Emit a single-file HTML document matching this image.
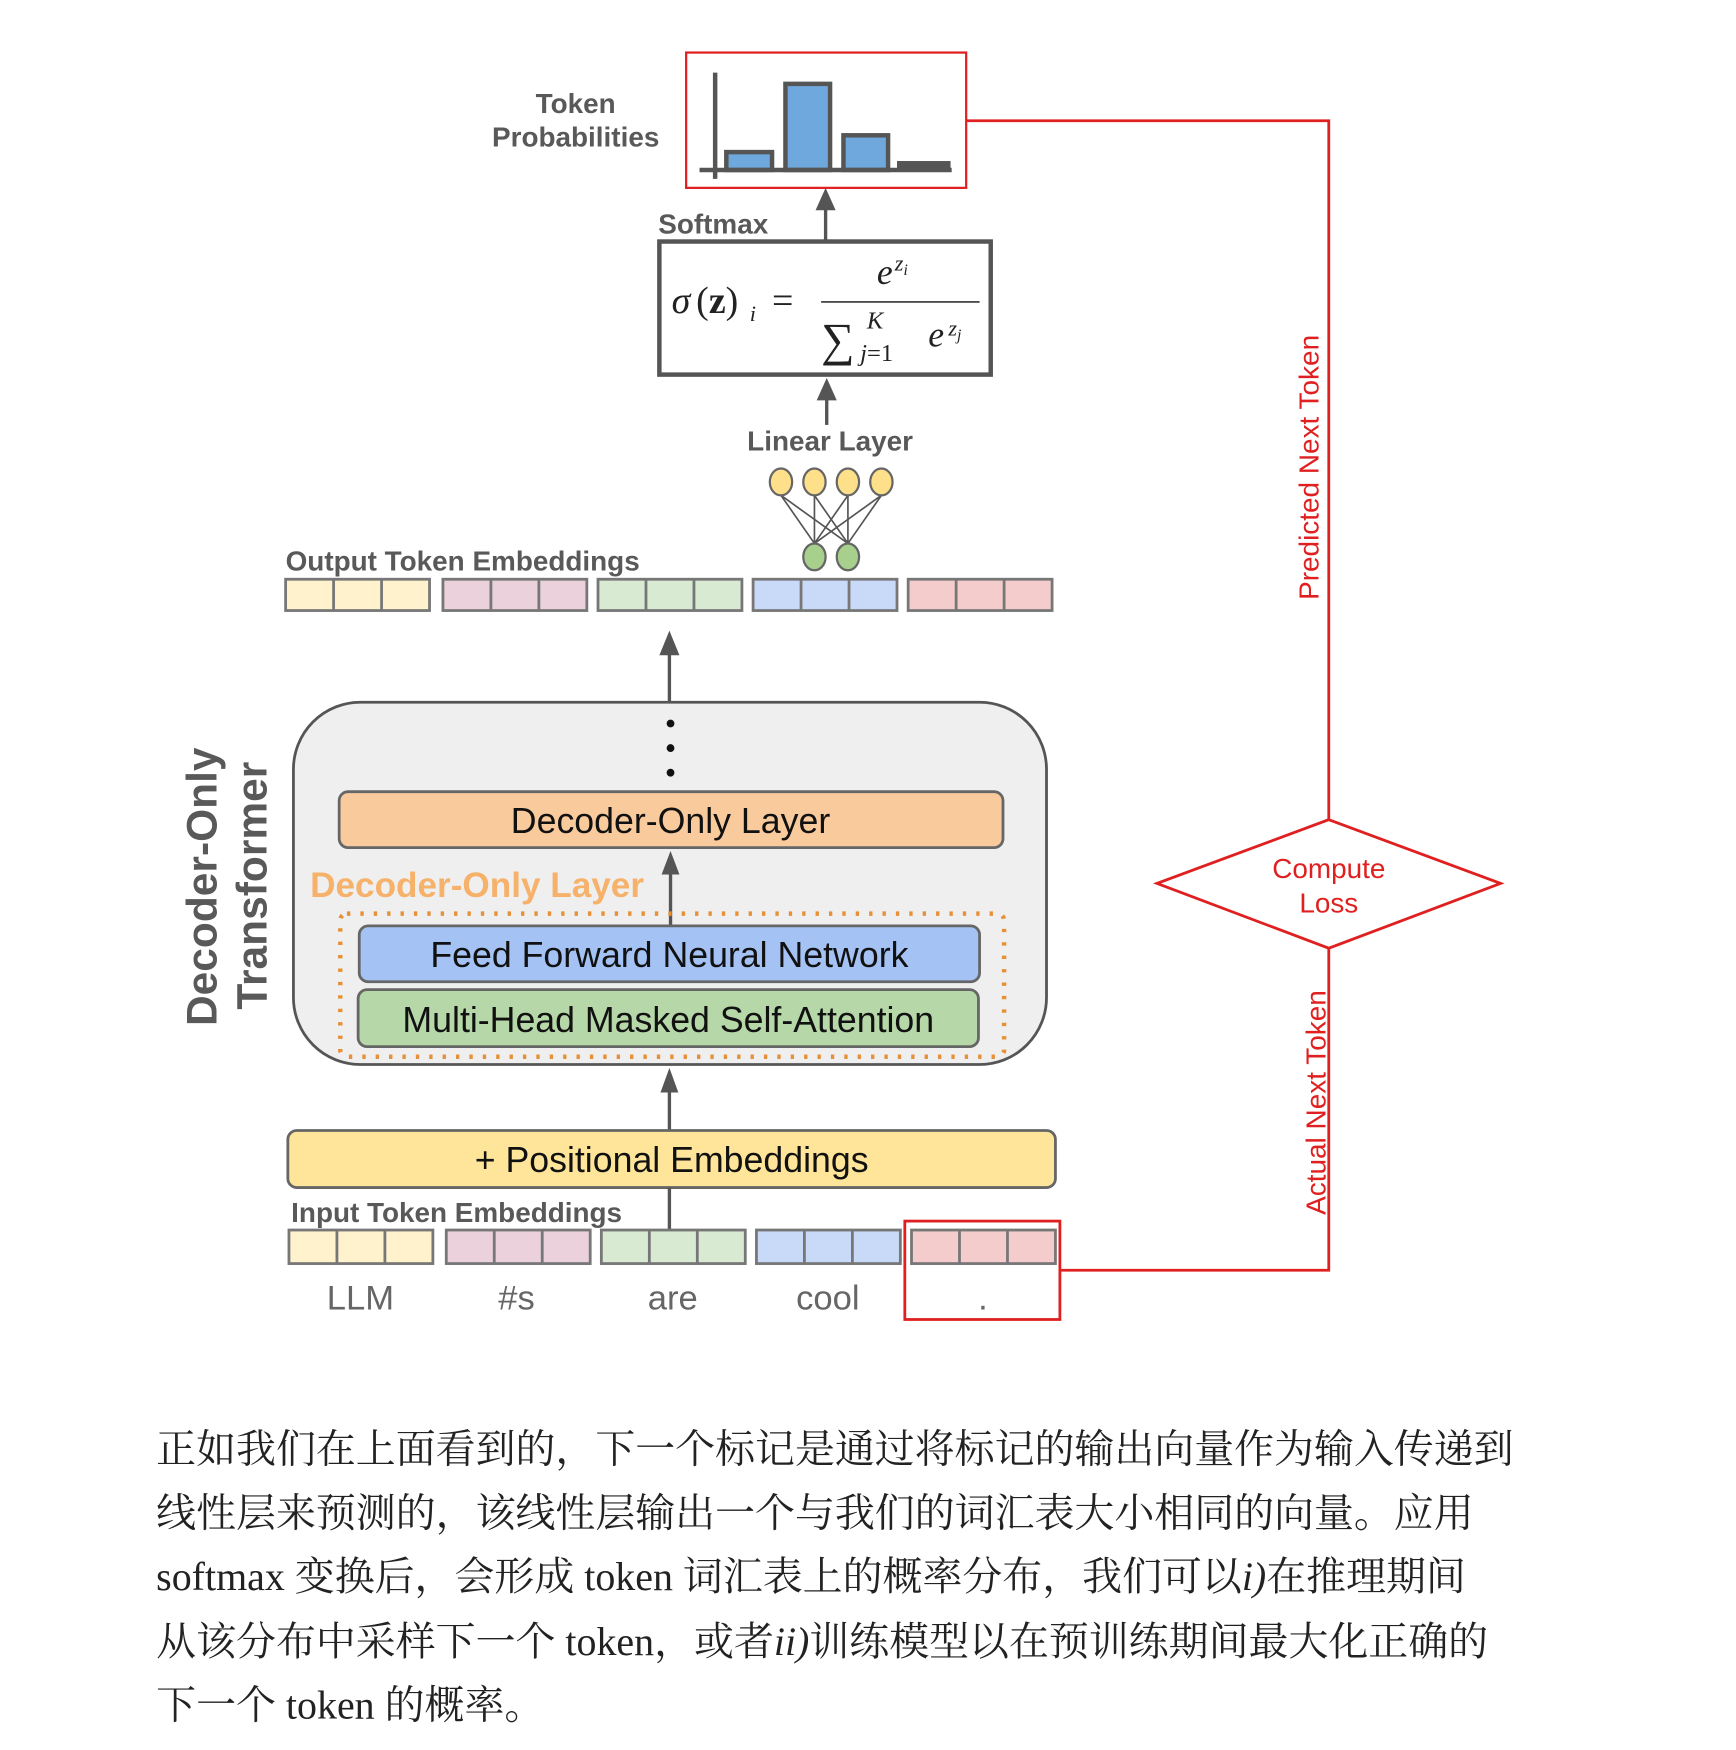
<!DOCTYPE html>
<html><head><meta charset="utf-8"><style>
html,body{margin:0;padding:0;background:#fff;width:1736px;height:1750px;overflow:hidden}
svg{display:block}
.lb{font-family:"Liberation Sans",sans-serif;font-weight:bold;fill:#595959}
.bx{font-family:"Liberation Sans",sans-serif;fill:#111}
.mt{font-family:"Liberation Serif",serif;fill:#222}
.zh{font-family:"Liberation Serif","Noto Serif CJK SC",serif;fill:#222;font-size:35.8px}
</style></head><body>
<svg width="1736" height="1750" viewBox="0 0 1556 1565" preserveAspectRatio="none" xmlns="http://www.w3.org/2000/svg">
<rect width="1568" height="1581" fill="#fff"/>
<!-- token probabilities -->
<text class="lb" x="516" y="101" font-size="25" text-anchor="middle">Token</text>
<text class="lb" x="516" y="131" font-size="25" text-anchor="middle">Probabilities</text>
<rect x="615" y="47" width="251" height="121" fill="none" stroke="#e02020" stroke-width="2"/>
<g stroke="#555" stroke-width="4" fill="#6fa8dc">
<rect x="651" y="136" width="41" height="16"/><rect x="704" y="75" width="40" height="77"/><rect x="756" y="121" width="40" height="31"/>
<rect x="806" y="146" width="44" height="5" fill="#555"/>
<line x1="641" y1="65" x2="641" y2="160"/><line x1="627" y1="152" x2="853" y2="152"/></g>
<!-- softmax -->
<line x1="740" y1="216" x2="740" y2="180" stroke="#555" stroke-width="3"/><path d="M731,188 L740,168 L749,188z" fill="#555"/>
<text class="lb" x="590" y="209" font-size="25">Softmax</text>
<rect x="591" y="216" width="297" height="119" fill="#fff" stroke="#555" stroke-width="4"/>
<text class="mt" x="602" y="280" font-size="34" font-style="italic">σ</text>
<text class="mt" x="624" y="280" font-size="34">(<tspan font-weight="bold">z</tspan>)</text>
<text class="mt" x="672" y="287" font-size="20" font-style="italic">i</text>
<text class="mt" x="692" y="280" font-size="34">=</text>
<line x1="736" y1="270" x2="878" y2="270" stroke="#333" stroke-width="1.5"/>
<text class="mt" x="786" y="254" font-size="32" font-style="italic">e</text>
<text class="mt" x="802" y="242" font-size="20" font-style="italic">z<tspan font-size="14" dy="4">i</tspan></text>
<text class="mt" x="736" y="318" font-size="42">∑</text>
<text class="mt" x="777" y="294" font-size="22" font-style="italic">K</text>
<text class="mt" x="771" y="323" font-size="22"><tspan font-style="italic">j</tspan>=1</text>
<text class="mt" x="832" y="310" font-size="32" font-style="italic">e</text>
<text class="mt" x="850" y="300" font-size="20" font-style="italic">z<tspan font-size="14" dy="4">j</tspan></text>
<!-- linear layer -->
<line x1="741" y1="380" x2="741" y2="350" stroke="#555" stroke-width="3"/><path d="M732,358 L741,338 L750,358z" fill="#555"/>
<text class="lb" x="744" y="403" font-size="25" text-anchor="middle">Linear Layer</text>
<g stroke="#555" stroke-width="1.5">
<line x1="700" y1="443" x2="730" y2="486"/><line x1="700" y1="443" x2="760" y2="486"/>
<line x1="730" y1="443" x2="730" y2="486"/><line x1="730" y1="443" x2="760" y2="486"/>
<line x1="760" y1="443" x2="730" y2="486"/><line x1="760" y1="443" x2="760" y2="486"/>
<line x1="790" y1="443" x2="730" y2="486"/><line x1="790" y1="443" x2="760" y2="486"/></g>
<g stroke="#666" stroke-width="2" fill="#ffe08a">
<ellipse cx="700" cy="431" rx="10" ry="12"/><ellipse cx="730" cy="431" rx="10" ry="12"/><ellipse cx="760" cy="431" rx="10" ry="12"/><ellipse cx="790" cy="431" rx="10" ry="12"/>
<ellipse cx="730" cy="498" rx="10" ry="12" fill="#a8d08d"/><ellipse cx="760" cy="498" rx="10" ry="12" fill="#a8d08d"/></g>
<!-- output embeddings -->
<text class="lb" x="256" y="510" font-size="25">Output Token Embeddings</text>
<g stroke="#777" stroke-width="2.5">
<rect x="256" y="518" width="129" height="28" fill="#fff2cc"/><line x1="299" y1="518" x2="299" y2="546"/><line x1="342" y1="518" x2="342" y2="546"/>
<rect x="397" y="518" width="129" height="28" fill="#ead1dc"/><line x1="440" y1="518" x2="440" y2="546"/><line x1="483" y1="518" x2="483" y2="546"/>
<rect x="536" y="518" width="129" height="28" fill="#d9ead3"/><line x1="579" y1="518" x2="579" y2="546"/><line x1="622" y1="518" x2="622" y2="546"/>
<rect x="675" y="518" width="129" height="28" fill="#c9daf8"/><line x1="718" y1="518" x2="718" y2="546"/><line x1="761" y1="518" x2="761" y2="546"/>
<rect x="814" y="518" width="129" height="28" fill="#f4cccc"/><line x1="857" y1="518" x2="857" y2="546"/><line x1="900" y1="518" x2="900" y2="546"/></g>
<line x1="600" y1="628" x2="600" y2="578" stroke="#555" stroke-width="3"/><path d="M591,586 L600,564 L609,586z" fill="#555"/>
<!-- transformer box -->
<rect x="263" y="628" width="675" height="324" rx="60" fill="#efefef" stroke="#555" stroke-width="2.5"/>
<circle cx="601" cy="647" r="3.5" fill="#111"/><circle cx="601" cy="669" r="3.5" fill="#111"/><circle cx="601" cy="691" r="3.5" fill="#111"/>
<rect x="304" y="708" width="595" height="50" rx="8" fill="#f9cb9c" stroke="#666" stroke-width="2.5"/>
<text class="bx" x="601" y="745" font-size="32" text-anchor="middle">Decoder-Only Layer</text>
<line x1="601" y1="828" x2="601" y2="778" stroke="#555" stroke-width="3"/><path d="M593,782 L601,761 L609,782z" fill="#555"/>
<text x="278" y="802" font-family="Liberation Sans,sans-serif" font-weight="bold" font-size="31.5" fill="#f6b26b">Decoder-Only Layer</text>
<rect x="305" y="817" width="595" height="128" rx="6" fill="none" stroke="#e69138" stroke-width="4" stroke-dasharray="3 9"/>
<rect x="322" y="828" width="556" height="50" rx="8" fill="#a4c2f4" stroke="#666" stroke-width="2.5"/>
<text class="bx" x="600" y="865" font-size="32" text-anchor="middle">Feed Forward Neural Network</text>
<rect x="321" y="885" width="556" height="51" rx="8" fill="#b6d7a8" stroke="#666" stroke-width="2.5"/>
<text class="bx" x="599" y="923" font-size="32" text-anchor="middle">Multi-Head Masked Self-Attention</text>
<text class="lb" font-size="38" transform="translate(194,793) rotate(-90)" text-anchor="middle">Decoder-Only</text>
<text class="lb" font-size="38" transform="translate(239,792) rotate(-90)" text-anchor="middle">Transformer</text>
<!-- positional -->
<line x1="600" y1="1011" x2="600" y2="975" stroke="#555" stroke-width="3"/><path d="M592,977 L600,955 L608,977z" fill="#555"/>
<rect x="258" y="1011" width="688" height="51" rx="8" fill="#ffe599" stroke="#666" stroke-width="2.5"/>
<text class="bx" x="602" y="1048" font-size="32" text-anchor="middle">+ Positional Embeddings</text>
<line x1="600" y1="1062" x2="600" y2="1100" stroke="#555" stroke-width="3"/>
<text class="lb" x="261" y="1093" font-size="25">Input Token Embeddings</text>
<g stroke="#777" stroke-width="2.5">
<rect x="259" y="1100" width="129" height="30" fill="#fff2cc"/><line x1="302" y1="1100" x2="302" y2="1130"/><line x1="345" y1="1100" x2="345" y2="1130"/>
<rect x="400" y="1100" width="129" height="30" fill="#ead1dc"/><line x1="443" y1="1100" x2="443" y2="1130"/><line x1="486" y1="1100" x2="486" y2="1130"/>
<rect x="539" y="1100" width="129" height="30" fill="#d9ead3"/><line x1="582" y1="1100" x2="582" y2="1130"/><line x1="625" y1="1100" x2="625" y2="1130"/>
<rect x="678" y="1100" width="129" height="30" fill="#c9daf8"/><line x1="721" y1="1100" x2="721" y2="1130"/><line x1="764" y1="1100" x2="764" y2="1130"/>
<rect x="817" y="1100" width="129" height="30" fill="#f4cccc"/><line x1="860" y1="1100" x2="860" y2="1130"/><line x1="903" y1="1100" x2="903" y2="1130"/></g>
<g font-family="Liberation Sans,sans-serif" font-size="31" fill="#666" text-anchor="middle">
<text x="323" y="1171">LLM</text><text x="463" y="1171">#s</text><text x="603" y="1171">are</text><text x="742" y="1171">cool</text><text x="881" y="1171">.</text></g>
<rect x="811" y="1092" width="139" height="88" fill="none" stroke="#e02020" stroke-width="2.5"/>
<!-- red loss path -->
<g fill="none" stroke="#e02020" stroke-width="2.5">
<polyline points="950,1136 1191,1136 1191,848"/>
<polyline points="866,108 1191,108 1191,733"/>
<polygon points="1191,733 1345,790 1191,848 1037,790"/></g>
<g font-family="Liberation Sans,sans-serif" font-size="25" fill="#e02020" text-anchor="middle">
<text x="1191" y="785">Compute</text><text x="1191" y="816">Loss</text>
<text transform="translate(1182,418) rotate(-90)">Predicted Next Token</text>
<text transform="translate(1188,986) rotate(-90)">Actual Next Token</text></g>
<!-- paragraph -->
<text class="zh" x="140" y="1308">正如我们在上面看到的，下一个标记是通过将标记的输出向量作为输入传递到</text>
<text class="zh" x="140" y="1365">线性层来预测的，该线性层输出一个与我们的词汇表大小相同的向量。应用</text>
<text class="zh" x="140" y="1422">softmax 变换后，会形成 token 词汇表上的概率分布，我们可以<tspan font-style="italic">i)</tspan>在推理期间</text>
<text class="zh" x="140" y="1480">从该分布中采样下一个 token，或者<tspan font-style="italic">ii)</tspan>训练模型以在预训练期间最大化正确的</text>
<text class="zh" x="140" y="1537">下一个 token 的概率。</text>
</svg>
</body></html>
